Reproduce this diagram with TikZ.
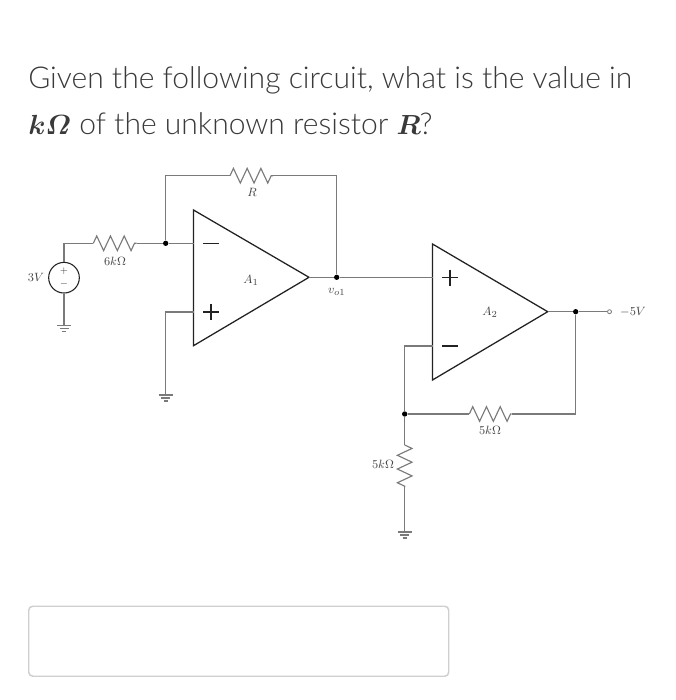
\documentclass[tikz,border=0pt]{standalone}
\usepackage{amsmath}
\usepackage[no-math]{fontspec}
\setmainfont{Lato Light}
\usetikzlibrary{decorations.pathmorphing}
\definecolor{wirec}{HTML}{7A7A7A}
\definecolor{inkc}{HTML}{222222}
\definecolor{titlec}{HTML}{3A3A3A}
\definecolor{lblc}{HTML}{444444}
\definecolor{boxc}{HTML}{CFCFCF}
\tikzset{
  wire/.style={draw=wirec,line width=0.85pt},
  opamp/.style={draw=inkc,line width=0.95pt,line join=miter},
  sign/.style={draw=inkc,line width=1.1pt},
  res/.style={wire,decorate,decoration={zigzag,segment length=10.3pt,amplitude=5.5pt}},
  dot/.style={circle,fill=black,inner sep=0pt,minimum size=4pt},
  lbl/.style={text=lblc,inner sep=0pt,font=\fontsize{9.5}{11}\selectfont},
  title/.style={text=titlec,anchor=base west,inner sep=0pt,font=\fontsize{22.55}{28}\selectfont},
  gnd/.pic={
    \draw[wire] (-7,0) -- (7,0);
    \draw[wire] (-4.5,3) -- (4.5,3);
    \draw[wire] (-2,6) -- (2,6);
  }
}
\begin{document}
\begin{tikzpicture}[x=0.75pt,y=-0.75pt]
\useasboundingbox[fill=white] (0,0) rectangle (675,700);
% question text
\node[title] (t1) at (28,88) {Given the following circuit, what is the value in};
\node[title] (t2) at (28,134) {{\boldmath$k\varOmega$} of the unknown resistor {\boldmath$R$}\kern-1pt?};
% answer box
\node[draw=boxc,line width=1.1pt,rounded corners=3pt,minimum width=315pt,minimum height=52.5pt,inner sep=0pt,anchor=north west] (ans) at (28,605.5) {};
% first op-amp
\coordinate (a1t) at (193.5,210);
\coordinate (a1b) at (193.5,345.7);
\coordinate (a1o) at (309,277.3);
\coordinate (a1m) at (193.5,243.3);
\coordinate (a1p) at (193.5,312);
\draw[opamp] (a1t) -- (a1o) -- (a1b) -- cycle;
\draw[sign] (203,243.3) -- (219,243.3);
\draw[sign] (203,312) -- (219,312) (211,304) -- (211,320);
\node[lbl] (a1l) at (251,280) {$A_1$};
% second op-amp
\coordinate (a2t) at (432.5,244);
\coordinate (a2b) at (432.5,380);
\coordinate (a2o) at (547.7,311.7);
\coordinate (a2p) at (432.5,277.3);
\coordinate (a2m) at (432.5,346);
\draw[opamp] (a2t) -- (a2o) -- (a2b) -- cycle;
\draw[sign] (442,346) -- (458,346);
\draw[sign] (442,277.5) -- (458,277.5) (450,269.5) -- (450,285.5);
\node[lbl] (a2l) at (490,312) {$A_2$};
% junctions
\node[dot] (j1) at (165.7,243.3) {};
\node[dot] (j2) at (336.7,277.3) {};
\node[dot] (j3) at (575.7,311.7) {};
\node[dot] (j4) at (404.7,414) {};
\node[circle,draw=wirec,fill=white,line width=0.6pt,inner sep=0pt,minimum size=3pt] (out) at (609.5,311.7) {};
% source
\node[circle,draw=inkc,line width=0.8pt,minimum size=23pt,inner sep=0pt] (src) at (64,277.7) {};
\node[lbl,font=\fontsize{7}{8}\selectfont] (sp) at (64,271.5) {$+$};
\node[lbl,font=\fontsize{7}{8}\selectfont] (sm) at (64,284) {$-$};
\node[lbl] (sl) at (36,277) {$3V$};
\coordinate (c1) at (64,243.3);
\coordinate (g1) at (64,325.7);
\coordinate (r1a) at (93.3,243.3);
\coordinate (r1b) at (136.7,243.3);
\draw[wire] (src.north) -- (c1) -- (r1a);
\draw[res] (r1a) -- (r1b);
\draw[wire] (r1b) -- (j1) -- (a1m);
\draw[wire] (src.south) -- (g1);
\pic at (g1) {gnd};
\node[lbl] (r1l) at (115,261) {$6k\Omega$};
% feedback R
\coordinate (c2) at (165.7,175.7);
\coordinate (c3) at (336.7,175.7);
\coordinate (r2a) at (230,175.7);
\coordinate (r2b) at (273,175.7);
\draw[wire] (j1) -- (c2) -- (r2a);
\draw[res] (r2a) -- (r2b);
\draw[wire] (r2b) -- (c3) -- (j2);
\node[lbl] (r2l) at (252,192) {$R$};
% plus input of first op-amp
\coordinate (c4) at (165.7,312);
\coordinate (g2) at (165.7,395);
\draw[wire] (a1p) -- (c4) -- (g2);
\pic at (g2) {gnd};
% link between stages
\draw[wire] (a1o) -- (j2) -- (a2p);
\node[lbl] (vl) at (336.7,292) {$v_{o1}$};
% second stage
\draw[wire] (a2o) -- (j3) -- (out);
\node[lbl] (ol) at (633,311.7) {$-5V$};
\coordinate (c5) at (404.7,346);
\coordinate (c6) at (575.7,414);
\coordinate (r3a) at (469.3,414);
\coordinate (r3b) at (511.7,414);
\draw[wire] (a2m) -- (c5) -- (j4) -- (r3a);
\draw[res] (r3a) -- (r3b);
\draw[wire] (r3b) -- (c6) -- (j3);
\node[lbl] (r3l) at (490,430.7) {$5k\Omega$};
\coordinate (r4a) at (404.7,445);
\coordinate (r4b) at (404.7,487);
\coordinate (g3) at (404.7,532);
\draw[wire] (j4) -- (r4a);
\draw[res] (r4a) -- (r4b);
\draw[wire] (r4b) -- (g3);
\pic at (g3) {gnd};
\node[lbl] (r4l) at (383,464) {$5k\Omega$};
\end{tikzpicture}
\end{document}
